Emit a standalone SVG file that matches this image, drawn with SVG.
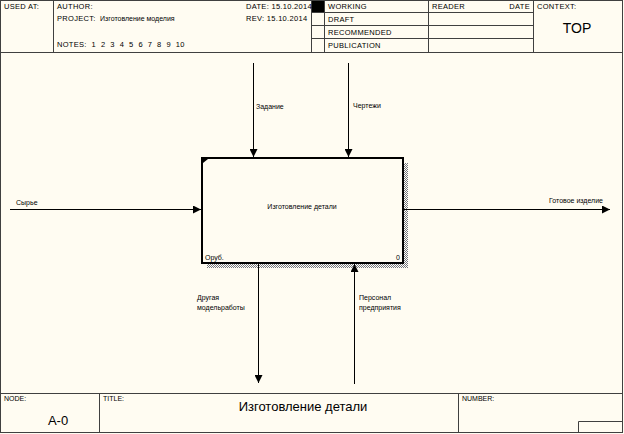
<svg xmlns="http://www.w3.org/2000/svg" width="624" height="434" viewBox="0 0 624 434">
<style>
.ln{stroke:#404040;stroke-width:1;fill:none}
.t{font-family:"Liberation Sans",Arial,sans-serif;font-size:7px;fill:#000}
.h{font-family:"Liberation Sans",Arial,sans-serif;font-size:7.5px;fill:#000;letter-spacing:0.3px}
.c{stroke:#000;stroke-width:1;fill:none}
</style>
<defs>
<pattern id="hatch" width="2" height="2" patternUnits="userSpaceOnUse">
<rect width="2" height="2" fill="#fff"/>
<rect width="1" height="1" fill="#777"/>
<rect x="1" y="1" width="1" height="1" fill="#777"/>
</pattern>
<marker id="ah" viewBox="0 0 8 8" refX="8" refY="4" markerWidth="8" markerHeight="8" markerUnits="userSpaceOnUse" orient="auto">
<path d="M0,0 L8,4 L0,8 Z" fill="#000"/>
</marker>
</defs>
<rect x="0" y="0" width="624" height="434" fill="#FFFCF2"/>
<g id="frame">
<rect x="0.5" y="0.5" width="622" height="432" class="ln"/>
<line x1="0" y1="52.5" x2="623" y2="52.5" class="ln"/>
<line x1="0" y1="393.5" x2="623" y2="393.5" class="ln"/>
<line x1="53.5" y1="0" x2="53.5" y2="52" class="ln"/>
<line x1="311.5" y1="0" x2="311.5" y2="52" class="ln"/>
<line x1="324.5" y1="0" x2="324.5" y2="52" class="ln"/>
<line x1="428.5" y1="0" x2="428.5" y2="52" class="ln"/>
<line x1="533.5" y1="0" x2="533.5" y2="52" class="ln"/>
<line x1="311" y1="12.5" x2="533" y2="12.5" class="ln"/>
<line x1="311" y1="25.5" x2="533" y2="25.5" class="ln"/>
<line x1="311" y1="38.5" x2="533" y2="38.5" class="ln"/>
<rect x="312" y="1" width="12" height="11" fill="#000"/>
<line x1="99.5" y1="393" x2="99.5" y2="433" class="ln"/>
<line x1="458.5" y1="393" x2="458.5" y2="433" class="ln"/>
<polyline points="578.5,433 578.5,421.5 623,421.5" class="ln"/>
<text x="4" y="9" class="h">USED AT:</text>
<text x="57" y="9" class="h">AUTHOR:</text>
<text x="57" y="21" class="h">PROJECT:</text>
<text x="100" y="21" class="t">Изготовление моделия</text>
<text x="57" y="47" class="h" word-spacing="2.5">NOTES: 1 2 3 4 5 6 7 8 9 10</text>
<text x="246" y="9" class="h">DATE: 15.10.2014</text>
<text x="246" y="21" class="h">REV:    15.10.2014</text>
<text x="328" y="9" class="h">WORKING</text>
<text x="328" y="22" class="h">DRAFT</text>
<text x="328" y="35" class="h">RECOMMENDED</text>
<text x="328" y="48" class="h">PUBLICATION</text>
<text x="432" y="9" class="h">READER</text>
<text x="530" y="9" class="h" text-anchor="end">DATE</text>
<text x="537" y="9" class="h">CONTEXT:</text>
<text x="577" y="33" font-family="Liberation Sans,Arial,sans-serif" font-size="14" text-anchor="middle">TOP</text>
<text x="4" y="401" class="t" font-size="6.5">NODE:</text>
<text x="103" y="401" class="t" font-size="6.5">TITLE:</text>
<text x="462" y="401" class="t" font-size="6.5">NUMBER:</text>
<text x="58" y="425" font-family="Liberation Sans,Arial,sans-serif" font-size="13" text-anchor="middle">A-0</text>
<text x="303" y="411" font-family="Liberation Sans,Arial,sans-serif" font-size="13" text-anchor="middle">Изготовление детали</text>
</g>
<g id="node-A0">
<rect x="403" y="163" width="5" height="105" fill="url(#hatch)"/>
<rect x="207" y="263" width="201" height="5" fill="url(#hatch)"/>
<rect x="202" y="158" width="201" height="105" fill="#FFFCF2" stroke="#000" stroke-width="2"/>
<path d="M203,163 L208,159 L203,159 Z" fill="#000"/>
<text x="302" y="209" class="t" text-anchor="middle">Изготовление детали</text>
<text x="205" y="260" class="t">Оруб.</text>
<text x="400" y="260" class="t" text-anchor="end">0</text>
</g>
<g id="connectors">
<line x1="253.5" y1="63" x2="253.5" y2="157" class="c" marker-end="url(#ah)"/>
<line x1="348.5" y1="63" x2="348.5" y2="157" class="c" marker-end="url(#ah)"/>
<line x1="10" y1="209.5" x2="201" y2="209.5" class="c" marker-end="url(#ah)"/>
<line x1="404" y1="209.5" x2="610" y2="209.5" class="c" marker-end="url(#ah)"/>
<line x1="258.5" y1="264" x2="258.5" y2="383" class="c" marker-end="url(#ah)"/>
<line x1="354.5" y1="384" x2="354.5" y2="264" class="c" marker-end="url(#ah)"/>
<text x="256" y="109" class="t">Задание</text>
<text x="353" y="108" class="t">Чертежи</text>
<text x="16" y="205" class="t">Сырье</text>
<text x="603" y="203" class="t" text-anchor="end">Готовое изделие</text>
<text x="197" y="300" class="t">Другая</text>
<text x="197" y="310" class="t">модельработы</text>
<text x="359" y="300" class="t">Персонал</text>
<text x="359" y="310" class="t">предприятия</text>
</g>
</svg>
